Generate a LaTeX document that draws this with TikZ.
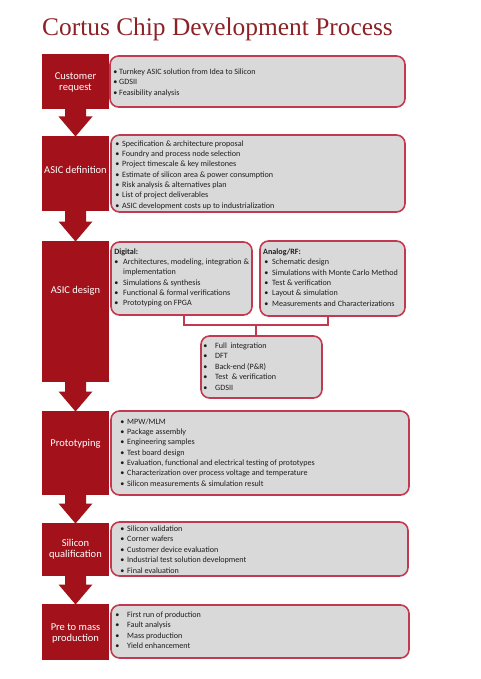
\documentclass[tikz,border=0pt]{standalone}
\usepackage{fontspec}
\setmainfont{Liberation Serif}
\newfontfamily\carl{Carlito}
\usetikzlibrary{calc}
\definecolor{boxred}{HTML}{A3121B}
\definecolor{borderred}{HTML}{C23A4F}
\definecolor{boxgray}{HTML}{D9D9D9}
\definecolor{titlered}{HTML}{8C2226}
\definecolor{txtcol}{HTML}{1E1E1E}
\newcommand{\bitem}[2]{\makebox[#1pt][l]{\textbullet}#2}
\newcommand{\fst}{\rule{0pt}{6.5pt}}
\newcommand{\flowarrow}[2]{%
  \fill[redfill] ($(#1.south)+(-10.5,-1)$) -- ($(#2.north)+(-10.5,-19.5)$) --
    ($(#2.north)+(-17,-19.5)$) -- ($(#2.north)+(0,0.5)$) --
    ($(#2.north)+(17,-19.5)$) -- ($(#2.north)+(10.5,-19.5)$) --
    ($(#1.south)+(10.5,-1)$) -- cycle;}
\tikzset{
  redfill/.style={fill=boxred},
  redbox/.style={redfill, draw=none, inner sep=0, outer sep=0, minimum width=67pt, anchor=north west},
  redlabel/.style={text=white, font=\carl\fontsize{10.5}{11.7}\selectfont, align=center, inner sep=0, anchor=north},
  gbox/.style={draw=borderred, line width=1.6pt, fill=boxgray, rounded corners=8.5pt, inner sep=0, outer sep=0, anchor=north west},
  items/.style={text=txtcol, align=left, inner sep=0, anchor=north west},
  conn/.style={draw=borderred, line width=1.6pt}
}
\begin{document}
\begin{tikzpicture}[x=1pt,y=-1pt]
\useasboundingbox (0,0) rectangle (480,679);
\node[anchor=base west, inner sep=0, text=titlered, font=\fontsize{25.4}{30}\selectfont] (title) at (42,36) {Cortus Chip Development Process};

% red boxes
\node[redbox, minimum height=55pt] (r1) at (42,54) {};
\node[redbox, minimum height=75pt] (r2) at (42,136) {};
\node[redbox, minimum height=141pt] (r3) at (42,241) {};
\node[redbox, minimum height=84pt] (r4) at (42,411) {};
\node[redbox, minimum height=53pt] (r5) at (42,523) {};
\node[redbox, minimum height=56pt] (r6) at (42,604) {};

\flowarrow{r1}{r2}
\flowarrow{r2}{r3}
\flowarrow{r3}{r4}
\flowarrow{r4}{r5}
\flowarrow{r5}{r6}

% red labels
\node[redlabel] (l1) at (75.5,71) {\rule{0pt}{8pt}Customer\\request};
\node[redlabel] (l2) at (75.5,165.7) {\rule{0pt}{8pt}ASIC definition};
\node[redlabel] (l3) at (75.5,285) {\rule{0pt}{8pt}ASIC design};
\node[redlabel] (l4) at (75.5,438) {\rule{0pt}{8pt}Prototyping};
\node[redlabel] (l5) at (75.5,538) {\rule{0pt}{8pt}Silicon\\qualification};
\node[redlabel] (l6) at (75.5,622) {\rule{0pt}{8pt}Pre to mass\\production};

% gray boxes
\node[gbox, minimum width=295pt, minimum height=51pt] (g1) at (110,56) {};
\node[gbox, minimum width=294pt, minimum height=77pt] (g2) at (111,135) {};
\node[gbox, minimum width=141pt, minimum height=73pt] (gd) at (111,242) {};
\node[gbox, minimum width=145pt, minimum height=75pt] (ga) at (260,241) {};
\node[gbox, minimum width=121pt, minimum height=62pt] (gb) at (201,336) {};
\node[gbox, minimum width=298pt, minimum height=84pt] (g4) at (111,411) {};
\node[gbox, minimum width=297pt, minimum height=54pt] (g5) at (111,522) {};
\node[gbox, minimum width=298pt, minimum height=53pt] (g6) at (111,605) {};

% connectors in ASIC design
\coordinate (j1) at (184,325);
\coordinate (j2) at (328,325);
\coordinate (jm) at (256,325);
\draw[conn] (gd.south -| j1) -- (j1) -- (j2) -- (ga.south -| j2);
\draw[conn] (jm) -- (jm |- gb.north);

% texts
\node[items, font=\carl\fontsize{8.1}{10.5}\selectfont] (t1) at (113.1,67.5) {%
\fst\bitem{5.9}{Turnkey ASIC solution from Idea to Silicon}\\
\bitem{5.9}{GDSII}\\
\bitem{5.9}{Feasibility analysis}};

\node[items, font=\carl\fontsize{8.1}{10.33}\selectfont] (t2) at (115.1,139.5) {%
\fst\bitem{6.9}{Specification \& architecture proposal}\\
\bitem{6.9}{Foundry and process node selection}\\
\bitem{6.9}{Project timescale \& key milestones}\\
\bitem{6.9}{Estimate of silicon area \& power consumption}\\
\bitem{6.9}{Risk analysis \& alternatives plan}\\
\bitem{6.9}{List of project deliverables}\\
\bitem{6.9}{ASIC development costs up to industrialization}};

\node[items, font=\carl\fontsize{8.1}{10.3}\selectfont] (td) at (114.1,247.5) {%
\fst\textbf{Digital:}\\
\bitem{8.9}{Architectures, modeling, integration \&}\\
\hspace*{8.9pt}implementation\\
\bitem{8.9}{Simulations \& synthesis}\\
\bitem{8.9}{Functional \& formal verifications}\\
\bitem{8.9}{Prototyping on FPGA}};

\node[items, font=\carl\fontsize{8.1}{10.4}\selectfont] (ta) at (263,247.5) {%
\fst\textbf{Analog/RF:}\\
\hspace*{1.1pt}\bitem{7.9}{Schematic design}\\
\hspace*{1.1pt}\bitem{7.9}{Simulations with Monte Carlo Method}\\
\hspace*{1.1pt}\bitem{7.9}{Test \& verification}\\
\hspace*{1.1pt}\bitem{7.9}{Layout \& simulation}\\
\hspace*{1.1pt}\bitem{7.9}{Measurements and Characterizations}};

\node[items, font=\carl\fontsize{8.1}{10.5}\selectfont] (tb) at (203.1,341.5) {%
\fst\bitem{11.9}{Full\ \ integration}\\
\bitem{11.9}{DFT}\\
\bitem{11.9}{Back-end (P\&R)}\\
\bitem{11.9}{Test\ \ \& verification}\\
\bitem{11.9}{GDSII}};

\node[items, font=\carl\fontsize{8.1}{10.33}\selectfont] (t4) at (120.1,417.5) {%
\fst\bitem{6.9}{MPW/MLM}\\
\bitem{6.9}{Package assembly}\\
\bitem{6.9}{Engineering samples}\\
\bitem{6.9}{Test board design}\\
\bitem{6.9}{Evaluation, functional and electrical testing of prototypes}\\
\bitem{6.9}{Characterization over process voltage and temperature}\\
\bitem{6.9}{Silicon measurements \& simulation result}};

\node[items, font=\carl\fontsize{8.1}{10.5}\selectfont] (t5) at (120.1,524.5) {%
\fst\bitem{6.9}{Silicon validation}\\
\bitem{6.9}{Corner wafers}\\
\bitem{6.9}{Customer device evaluation}\\
\bitem{6.9}{Industrial test solution development}\\
\bitem{6.9}{Final evaluation}};

\node[items, font=\carl\fontsize{8.1}{10.5}\selectfont] (t6) at (115.1,610.5) {%
\fst\bitem{11.9}{First run of production}\\
\bitem{11.9}{Fault analysis}\\
\bitem{11.9}{Mass production}\\
\bitem{11.9}{Yield enhancement}};
\end{tikzpicture}
\end{document}
